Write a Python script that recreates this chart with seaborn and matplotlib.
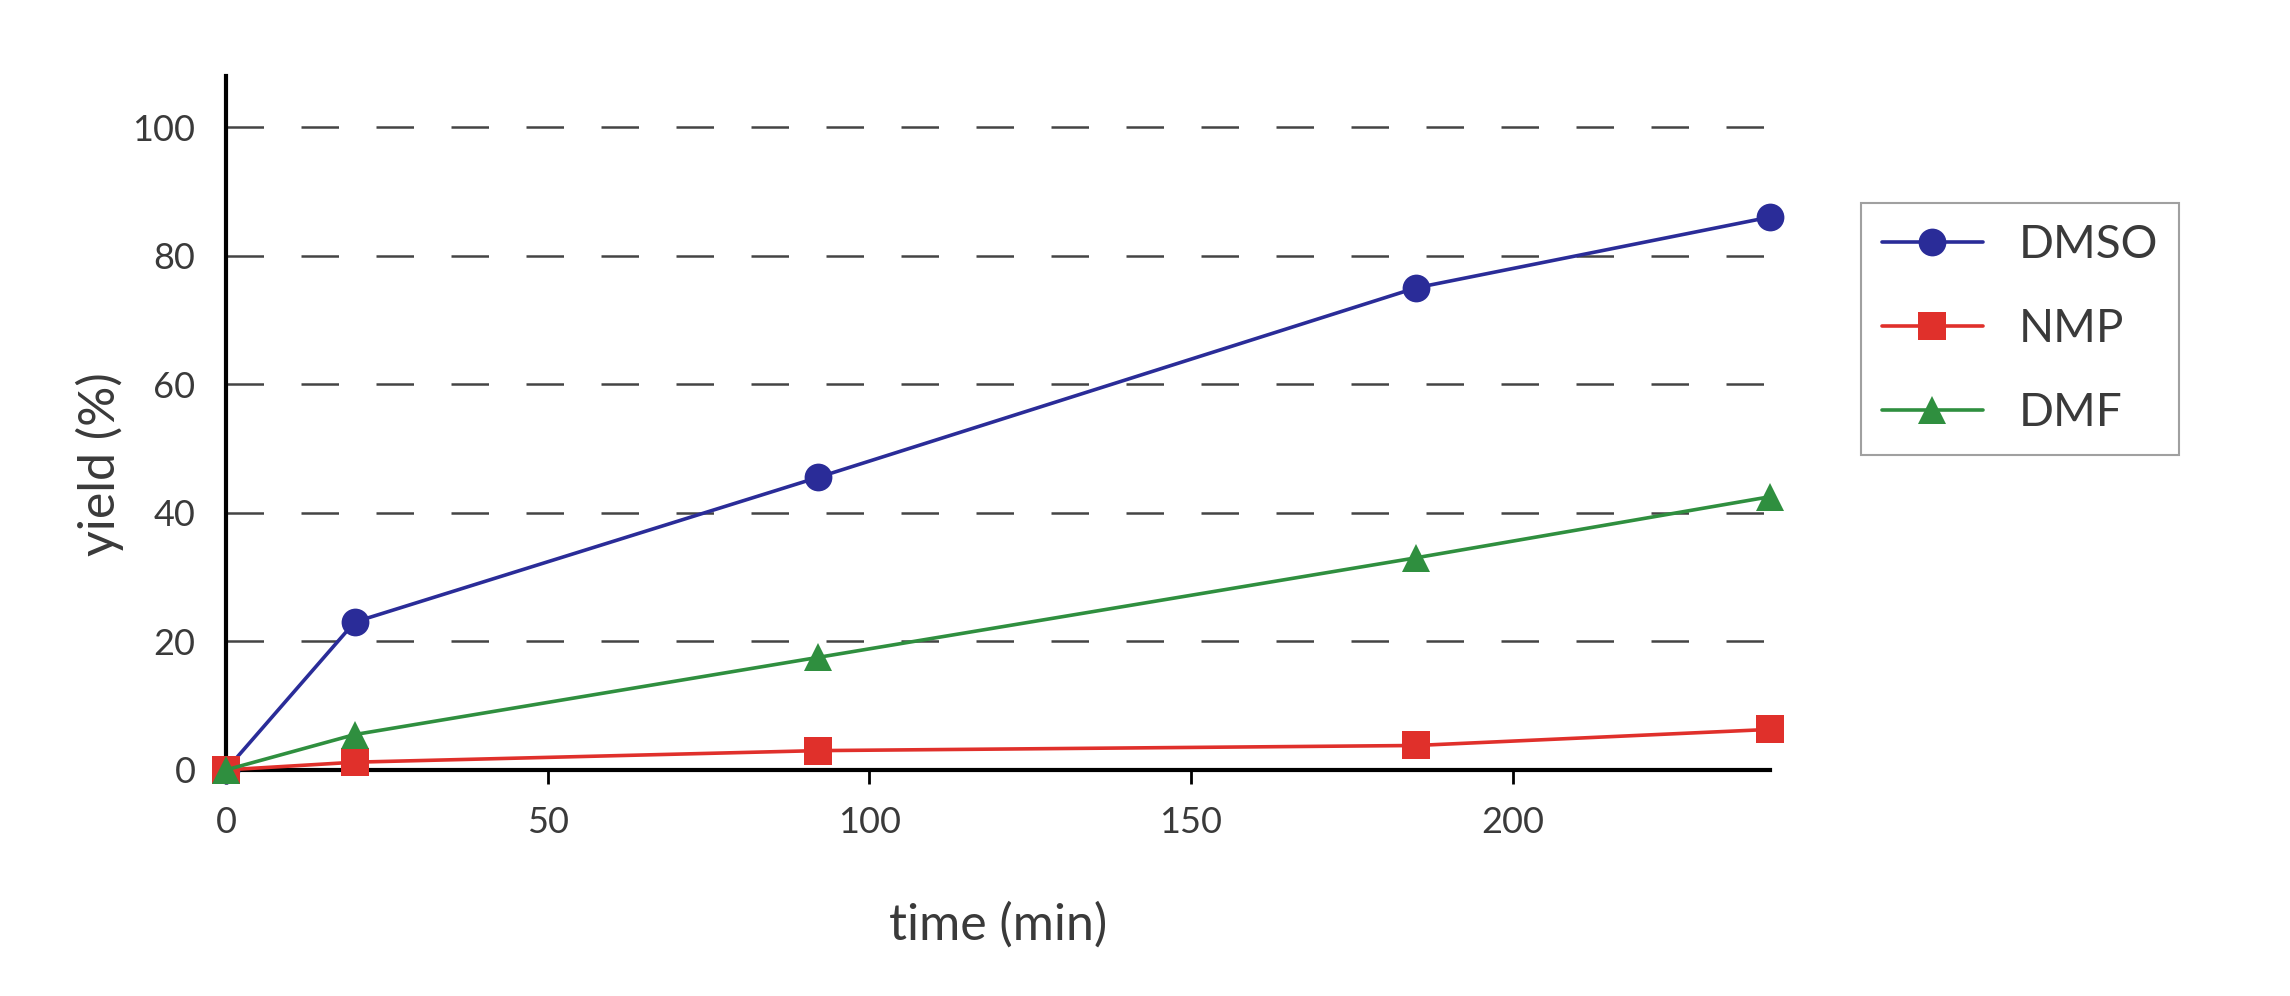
import numpy as np
import pandas as pd
import seaborn as sns
import matplotlib.pyplot as plt
from matplotlib.lines import Line2D

# data
time_min = [0, 20, 92, 185, 240]
dmso = [0, 23, 45.5, 75, 86]
nmp = [0, 1.2, 3, 3.8, 6.3]
dmf = [0, 5.5, 17.5, 33, 42.5]
solvents = ["DMSO", "NMP", "DMF"]
y_ticks = [0, 20, 40, 60, 80, 100]
x_ticks = [0, 50, 100, 150, 200]

colors = {"DMSO": "#2A2C98", "NMP": "#E0302B", "DMF": "#2F8F3F"}
markers = {"DMSO": "o", "NMP": "s", "DMF": "^"}

df = pd.DataFrame({
    "time": time_min * 3,
    "yield": dmso + nmp + dmf,
    "solvent": [s for s in solvents for _ in time_min],
})

sns.set_style("white")
plt.rcParams["font.family"] = ["Lato", "DejaVu Sans"]
text_color = "#3a3a3a"

fig = plt.figure(figsize=(22.9, 9.96), dpi=100)
ax = fig.add_axes([0.0987, 0.227, 0.6742, 0.697])

# dashed horizontal reference lines
for yv in y_ticks[1:]:
    ax.plot([0, 240], [yv, yv], color="#444444", lw=1.8,
            linestyle=(0, (15, 15)), zorder=1)

sns.lineplot(
    data=df, x="time", y="yield", hue="solvent", style="solvent",
    palette=colors, markers=markers, dashes=False, sort=False,
    linewidth=2.6, markersize=20, markeredgewidth=0,
    legend=False, ax=ax, zorder=3,
)
for ln in ax.lines:
    ln.set_clip_on(False)

ax.set_xlim(0, 240)
ax.set_ylim(0, 108)
ax.set_xticks(x_ticks)
ax.set_yticks(y_ticks)
ax.tick_params(axis="x", length=10, width=2, color="black", pad=16,
               labelsize=26, labelcolor=text_color, direction="out", bottom=True)
ax.tick_params(axis="y", length=0, pad=22, labelsize=26, labelcolor=text_color)

sns.despine(ax=ax)
for side in ["left", "bottom"]:
    ax.spines[side].set_linewidth(3)
    ax.spines[side].set_color("black")
    ax.spines[side].set_zorder(2)

ax.set_xlabel("time (min)", fontsize=36, color=text_color)
ax.set_ylabel("yield (%)", fontsize=36, color=text_color)
ax.xaxis.set_label_coords(0.5, -0.19)
ax.yaxis.set_label_coords(-0.066, 0.44)

handles = [
    Line2D([], [], color=colors[s], marker=markers[s], lw=2.6,
           markersize=20, markeredgewidth=0)
    for s in solvents
]
leg = fig.legend(
    handles, solvents, loc="upper left", bbox_to_anchor=(0.8127, 0.796),
    fontsize=33, frameon=True, fancybox=False, edgecolor="#888888",
    handlelength=2.2, handletextpad=0.8, labelspacing=0.92,
    borderpad=0.45, borderaxespad=0,
)
leg.get_frame().set_linewidth(1.5)
for t in leg.get_texts():
    t.set_color(text_color)

fig.savefig("out.png", dpi=100)
